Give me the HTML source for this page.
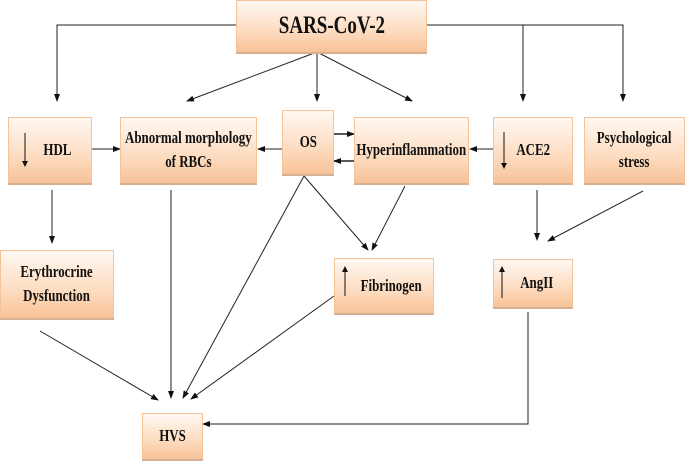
<!DOCTYPE html>
<html><head><style>
body{margin:0;width:685px;height:461px;background:#fff;position:relative;overflow:hidden;font-family:"Liberation Serif",serif;}
.b{position:absolute;box-sizing:border-box;border:1px solid #f4c39a;background:linear-gradient(#fff8f2,#fddcc0 60%,#f8c399);box-shadow:0 2px 0 #d6b092;display:flex;align-items:center;justify-content:center;text-align:center;font-weight:bold;font-size:17px;line-height:24px;color:#111;}
.b span{display:inline-block;transform:scaleX(0.76);white-space:nowrap}
svg{position:absolute;left:0;top:0}
</style></head><body>
<svg width="685" height="461">
<defs><marker id="a" markerWidth="8" markerHeight="6" refX="7" refY="3" orient="auto" markerUnits="userSpaceOnUse"><path d="M0,0 L8,3 L0,6z" fill="#111"/></marker></defs>
<g stroke="#222" stroke-width="1" fill="none" marker-end="url(#a)">
<polyline points="236,25 57,25 57,101"/>
<polyline points="427,25 623,25 623,101"/>
<line x1="523" y1="25" x2="523" y2="101"/>
<line x1="317" y1="52" x2="187" y2="101"/>
<line x1="317" y1="52" x2="317" y2="101"/>
<line x1="317" y1="52" x2="412" y2="101"/>
<line x1="92" y1="149" x2="120" y2="149"/>
<line x1="282" y1="149" x2="258" y2="149"/>
<line x1="334" y1="134" x2="354" y2="134" stroke-width="1.5"/>
<line x1="354" y1="161" x2="334" y2="161" stroke-width="1.5"/>
<line x1="493" y1="149" x2="470" y2="149"/>
<line x1="52" y1="190" x2="52" y2="243"/>
<line x1="171" y1="190" x2="171" y2="398"/>
<line x1="304" y1="176" x2="183" y2="398"/>
<line x1="304" y1="176" x2="368" y2="250"/>
<line x1="405" y1="186" x2="372" y2="250"/>
<line x1="537" y1="190" x2="537" y2="240"/>
<line x1="643" y1="191" x2="548" y2="241"/>
<line x1="40" y1="331" x2="158" y2="400"/>
<line x1="334" y1="296" x2="191" y2="399"/>
<polyline points="528,312 528,424 203,424"/>
</g>
</svg>
<div class="b" style="left:236px;top:0;width:191px;height:52px;font-size:25px"><span>SARS-CoV-2</span></div>
<div class="b" style="left:8px;top:117px;width:84px;height:66px;padding-left:14px"><span>HDL</span></div>
<div class="b" style="left:120px;top:117px;width:137px;height:66px"><span>Abnormal morphology<br>of RBCs</span></div>
<div class="b" style="left:282px;top:110px;width:52px;height:64px"><span>OS</span></div>
<div class="b" style="left:354px;top:117px;width:115px;height:66px"><span>Hyperinflammation</span></div>
<div class="b" style="left:493px;top:117px;width:80px;height:66px"><span>ACE2</span></div>
<div class="b" style="left:584px;top:117px;width:101px;height:66px"><span>Psychological<br>stress</span></div>
<div class="b" style="left:0;top:250px;width:114px;height:68px"><span>Erythrocrine<br>Dysfunction</span></div>
<div class="b" style="left:334px;top:258px;width:100px;height:55px;padding-left:14px"><span>Fibrinogen</span></div>
<div class="b" style="left:493px;top:259px;width:80px;height:48px;padding-left:8px"><span>AngII</span></div>
<div class="b" style="left:142px;top:413px;width:61px;height:46px"><span>HVS</span></div>
<svg width="685" height="461" style="pointer-events:none">
<defs><marker id="a2" markerWidth="6" markerHeight="6" refX="5" refY="3" orient="auto" markerUnits="userSpaceOnUse"><path d="M0,0 L6,3 L0,6z" fill="#111"/></marker></defs>
<g stroke="#111" stroke-width="1" marker-end="url(#a2)">
<line x1="25" y1="133" x2="25" y2="166"/>
<line x1="504" y1="132" x2="504" y2="168"/>
<line x1="345" y1="296" x2="345" y2="267"/>
<line x1="502" y1="298" x2="502" y2="267"/>
</g>
</svg>
</body></html>
